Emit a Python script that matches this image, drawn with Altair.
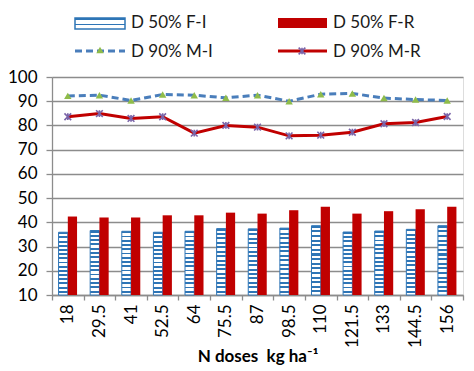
import altair as alt
import pandas as pd

doses = ["18", "29.5", "41", "52.5", "64", "75.5", "87", "98.5", "110", "121.5", "133", "144.5", "156"]
f_i = [35.9, 36.6, 36.3, 35.9, 36.3, 37.4, 37.3, 37.6, 38.6, 36.0, 36.4, 37.1, 38.6]
f_r = [42.4, 42.0, 42.0, 42.9, 42.9, 44.0, 43.6, 45.0, 46.4, 43.6, 44.6, 45.4, 46.4]
m_i = [92.2, 92.5, 90.3, 92.8, 92.5, 91.4, 92.5, 90.0, 92.9, 93.2, 91.3, 90.7, 90.3]
m_r = [83.6, 84.9, 82.9, 83.6, 76.8, 80.0, 79.3, 75.7, 76.0, 77.2, 80.7, 81.2, 83.7]

FONT = "Lato"
BLUE = "#2e75b6"
RED = "#c00000"
LBLUE = "#4a7ebb"
GREEN = "#8fbc4a"
PURPLE = "#7a64a8"

bars = pd.DataFrame(
    [{"dose": d, "series": "D 50% F-I", "v": a} for d, a in zip(doses, f_i)]
    + [{"dose": d, "series": "D 50% F-R", "v": b} for d, b in zip(doses, f_r)]
)
lines = pd.DataFrame({"dose": doses, "mi": m_i, "mr": m_r})


def stripes(n, color, frac=0.45):
    stops = []
    for i in range(n):
        a = i / n
        b = (i + frac) / n
        c = (i + 1) / n
        stops += [
            alt.GradientStop(offset=a, color=color),
            alt.GradientStop(offset=b, color=color),
            alt.GradientStop(offset=b, color="white"),
            alt.GradientStop(offset=c, color="white"),
        ]
    return alt.Gradient(gradient="linear", x1=0, x2=0, y1=0, y2=1, stops=stops)


xscale = alt.Scale(domain=doses, paddingInner=0, paddingOuter=0)
yscale = alt.Scale(domain=[10, 100], nice=False, zero=False)

xaxis = alt.Axis(
    title="N doses\u00a0\u00a0kg ha\u207b\u00b9",
    labelAngle=-90,
    labelFont=FONT, labelFontSize=17, labelColor="#000000", labelPadding=4,
    titleFont=FONT, titleFontSize=17, titleFontWeight="bold", titleColor="#000000",
    titlePadding=1,
    tickBand="extent", tickSize=5, tickColor="#8c8c8c", tickWidth=1.3,
    domainColor="#8c8c8c", domainWidth=1.3, grid=False,
)
yaxis = alt.Axis(
    title=None, values=list(range(10, 101, 10)),
    labelFont=FONT, labelFontSize=17, labelColor="#000000", labelPadding=9,
    tickSize=6, tickColor="#8c8c8c", tickWidth=1.3,
    domainColor="#8c8c8c", domainWidth=1.3,
    grid=True, gridColor="#8c8c8c", gridWidth=1.3,
)

X = alt.X("dose:N", scale=xscale, axis=xaxis, sort=doses)

bar_base = alt.Chart(bars).encode(
    x=X,
    xOffset=alt.XOffset("series:N", scale=alt.Scale(domain=["D 50% F-I", "D 50% F-R"], paddingInner=0, paddingOuter=0.71)),
    y=alt.Y("v:Q", scale=yscale, axis=yaxis),
    y2=alt.datum(10),
)
bar_fi = bar_base.transform_filter(alt.datum.series == "D 50% F-I").mark_bar(
    fill=stripes(15, BLUE), stroke=BLUE, strokeWidth=1
)
bar_fr = bar_base.transform_filter(alt.datum.series == "D 50% F-R").mark_bar(color=RED)

lbase = alt.Chart(lines).encode(x=X)
line_mi = lbase.mark_line(color=LBLUE, strokeWidth=3, strokeDash=[7, 4]).encode(
    y=alt.Y("mi:Q", scale=yscale, axis=yaxis)
)
pts_mi = lbase.mark_point(shape="triangle-up", filled=True, color=GREEN, size=55, opacity=1).encode(
    y=alt.Y("mi:Q", scale=yscale, axis=yaxis)
)
line_mr = lbase.mark_line(color=RED, strokeWidth=3).encode(y=alt.Y("mr:Q", scale=yscale, axis=yaxis))
STAR = "M-1,-1L1,1M-1,1L1,-1M0,-1L0,1"
pts_mr = lbase.mark_point(shape=STAR, filled=False, color=PURPLE, size=45, strokeWidth=1.6, opacity=1).encode(
    y=alt.Y("mr:Q", scale=yscale, axis=yaxis)
)

one = pd.DataFrame({"k": [0]})


def ltext(txt, x, y):
    return alt.Chart(one).mark_text(
        text=txt, align="left", baseline="middle", font=FONT, fontSize=17, color="#1a1a1a"
    ).encode(x=alt.value(x), y=alt.value(y))


leg = [
    alt.Chart(one).mark_rect(fill=stripes(2, BLUE, 0.3), stroke=BLUE, strokeWidth=1.5).encode(
        x=alt.value(23), x2=alt.value(73), y=alt.value(-59), y2=alt.value(-48)
    ),
    ltext("D 50% F-I", 79, -54),
    alt.Chart(one).mark_rect(fill=RED).encode(
        x=alt.value(226), x2=alt.value(275), y=alt.value(-59), y2=alt.value(-49)
    ),
    ltext("D 50% F-R", 281, -54),
    alt.Chart(one).mark_rule(color=LBLUE, strokeWidth=3, strokeDash=[7, 4]).encode(
        x=alt.value(23), x2=alt.value(73), y=alt.value(-26)
    ),
    alt.Chart(one).mark_point(shape="triangle-up", filled=True, color=GREEN, size=55, opacity=1).encode(
        x=alt.value(48), y=alt.value(-27)
    ),
    ltext("D 90% M-I", 79, -25),
    alt.Chart(one).mark_rule(color=RED, strokeWidth=3).encode(
        x=alt.value(226), x2=alt.value(275), y=alt.value(-26)
    ),
    alt.Chart(one).mark_point(shape=STAR, filled=False, color=PURPLE, size=45, strokeWidth=1.6, opacity=1).encode(
        x=alt.value(250), y=alt.value(-26)
    ),
    ltext("D 90% M-R", 281, -25),
]

chart = alt.layer(bar_fi, bar_fr, line_mi, line_mr, pts_mi, pts_mr, *leg).properties(
    width=411, height=218,
    autosize=alt.AutoSizeParams(type="none"),
    padding={"left": 44, "top": 69, "right": 3, "bottom": 76},
).configure_view(stroke=None).configure(background="white")

chart.save("out.html", embed_options={"renderer": "svg", "actions": False})
